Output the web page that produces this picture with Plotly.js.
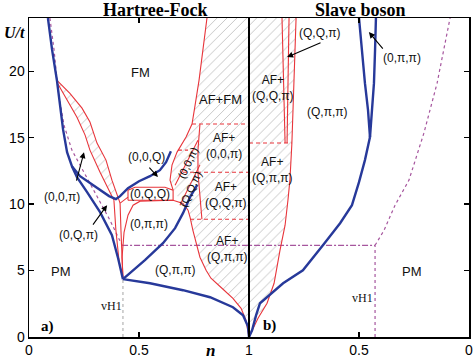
<!DOCTYPE html>
<html><head><meta charset="utf-8">
<script src="https://cdn.plot.ly/plotly-3.0.1.min.js"></script>
<style>body{margin:0;background:#fff}#c{width:474px;height:361px}</style>
</head><body><div id="c"></div>
<script>
// ---------- Hartree-Fock panel (x = n) ----------
const hfFmBlueN = [0.086,0.105,0.127,0.141,0.155,0.173,0.195,0.232,0.305,0.364,0.395,0.414,0.45,0.50,0.55,0.595,0.623,0.645];
const hfFmBlueU = [24.0,21.6,19.3,17.45,15.6,13.9,12.85,12.1,11.27,10.6,10.37,10.6,11.2,11.72,12.1,12.55,13.15,13.98];
const hfPmBlueN = [0.195,0.218,0.264,0.323,0.377,0.405,0.427];
const hfPmBlueU = [12.85,12.03,10.9,9.39,7.66,5.93,4.35];
const hfMidBlueN = [0.427,0.527,0.609,0.664,0.70,0.732,0.764];
const hfMidBlueU = [4.35,5.78,7.06,8.19,9.32,10.52,11.42];
const hfLowBlueN = [0.427,0.55,0.70,0.823,0.927,0.973,0.995,1.0];
const hfLowBlueU = [4.35,4.04,3.52,2.99,2.24,1.64,0.81,0];

const hfFmRedN = [0.809,0.791,0.773,0.755,0.741,0.714,0.686,0.673,0.65,0.641,0.655];
const hfFmRedU = [24,21.59,19.33,17.45,16.02,15.04,14.29,13.91,12.93,11.8,11.05];
const hfWedgeOutN = [0.127,0.186,0.241,0.277,0.309,0.35,0.377,0.40,0.414];
const hfWedgeOutU = [19.31,18.33,17.22,16.17,14.59,13.31,11.8,10.67,10.07];
const hfWedgeInN = [0.127,0.173,0.218,0.255,0.277,0.323,0.364,0.386];
const hfWedgeInU = [19.17,17.82,16.54,15.19,14.06,12.4,11.05,10.29];
const hfColAN = [0.386,0.395,0.409,0.423], hfColAU = [10.29,8.03,5.77,4.64];
const hfColBN = [0.45,0.414,0.418,0.423,0.427], hfColBU = [10.52,10.07,8.03,6.15,4.35];
const hfBoxN = [0.45,0.45,0.482,0.618,0.655,0.655,0.45];
const hfBoxU = [10.29,11.05,11.27,11.27,11.05,10.29,10.29];
const hfBigRedN = [0.427,0.423,0.432,0.45,0.473,0.505,0.655,0.70,0.723,0.732,0.745,0.764,0.777,0.805,0.827,0.882,0.927,0.964,0.986,1.0];
const hfBigRedU = [4.5,6.0,7.88,9.16,9.92,10.22,10.29,10.05,9.54,9.01,8.03,6.9,6.0,5.02,4.42,3.59,2.91,2.16,1.26,0];
const hfStripeRN = [0.777,0.768,0.768,0.777,0.786], hfStripeRU = [16.0,14.06,12.4,10.52,8.86];
const hfDiag1N = [0.768,0.664], hfDiag1U = [14.81,11.41];
const hfDiag2N = [0.777,0.686], hfDiag2U = [12.95,9.92];
// dashed horizontal red levels
const hfDashU = [16.02,14.06,12.4,8.86];
const hfDashFrom = [0.741,0.677,0.70,0.732];
const hfDashTo = [1,0.723,1,1];
// purple lines
const hfDotN = [0.095,0.114,0.132,0.159,0.195,0.227,0.277,0.318,0.368,0.423];
const hfDotU = [24,21.59,18.57,15.94,14.06,13.08,11.65,10.29,8.79,6.9];
const vh1U = 6.9, vh1N = 0.427, hfCuspU = 4.35;

// ---------- Slave boson panel (x = n, drawn mirrored) ----------
const sbBlueN = [1.0,0.986,0.968,0.95,0.845,0.755,0.664,0.586,0.532,0.50,0.473,0.45];
const sbBlueU = [0,0.5,1.63,2.54,4.04,5.02,6.9,8.56,9.92,11.65,13.31,15.04];
const sbBlueLN = [0.45,0.459,0.473,0.486,0.50], sbBlueLU = [15.04,17.07,19.1,21.59,24];
const sbBlueRN = [0.45,0.441,0.432,0.427,0.423], sbBlueRU = [15.04,17.07,19.1,21.59,24];
const sbRedN = [1.0,0.986,0.959,0.918,0.886,0.859,0.836,0.823,0.814,0.805,0.795,0.786];
const sbRedU = [0,0.5,1.41,2.54,4.04,6.53,8.41,10.29,11.8,14.59,19.33,24];
const sbRedAN = [0.85,0.836], sbRedAU = [24,14.59];
const sbRedBN = [0.818,0.827], sbRedBU = [24,14.59];
const sbDashU = 14.59, sbDashTo = 0.805;
const sbDotN = [0.427,0.386,0.336,0.273,0.205,0.145,0.086];
const sbDotU = [6.9,8.03,9.92,11.8,15.34,19.1,24];

const xTickVals = [0,0.5,1,1.5,2];
const xTickText = ['0','0.5','1','0.5','0'];
const yTickVals = [0,5,10,15,20];

const M = a => a.map(n => 2 - n);   // mirror right panel
const BLUE = '#27399a', RED = '#e8353b', PURP = '#a6569e', GREY='#b4b4b4';
const traces = [];
function L(x, y, color, width, dash){ traces.push({x, y, mode:'lines', line:{color, width, dash: dash||'solid'}, hoverinfo:'skip', showlegend:false}); }
const hatch = {shape:'/', fgcolor:'#bdbdbd', bgcolor:'rgba(0,0,0,0)', size:7, solidity:0.12};
function H(x, y){ traces.push({x, y, mode:'lines', fill:'toself', fillcolor:'rgba(0,0,0,0)', fillpattern:hatch, line:{width:0, color:'rgba(0,0,0,0)'}, hoverinfo:'skip', showlegend:false}); }

{
  const i0 = hfBigRedN.indexOf(0.732);
  const hx = hfFmRedN.slice(0,10).concat([0.655,0.70,0.723], hfBigRedN.slice(i0), [1]);
  const hy = hfFmRedU.slice(0,10).concat([11.05,10.05,9.54], hfBigRedU.slice(i0), [24]);
  H(hx, hy);
  H(hfWedgeOutN.concat(hfWedgeInN.slice().reverse()), hfWedgeOutU.concat(hfWedgeInU.slice().reverse()));
  H(M(sbRedN).concat([1]), sbRedU.concat([24]));
}
L(hfDotN, hfDotU, PURP, 1.2, 'dot');
L([hfDotN[hfDotN.length-1], 2 - vh1N], [vh1U, vh1U], PURP, 1.2, '6px,2px,2px,2px');
L(M(sbDotN), sbDotU, PURP, 1.2, 'dot');
L([vh1N, vh1N], [0, hfCuspU], GREY, 1.2, 'dot');
L([2-vh1N, 2-vh1N], [0, vh1U], PURP, 1.2, 'dot');
[[hfFmRedN,hfFmRedU],[hfWedgeOutN,hfWedgeOutU],[hfWedgeInN,hfWedgeInU],[hfColAN,hfColAU],[hfColBN,hfColBU],
 [hfBoxN,hfBoxU],[hfBigRedN,hfBigRedU],[hfStripeRN,hfStripeRU],[hfDiag1N,hfDiag1U],[hfDiag2N,hfDiag2U]].forEach(p=>L(p[0],p[1],RED,1.1));
hfDashU.forEach((u,i)=>L([hfDashFrom[i],hfDashTo[i]],[u,u],RED,1.1,'4px,3px'));
L(M(sbRedN), sbRedU, RED, 1.1);
L(M(sbRedAN), sbRedAU, RED, 1.1);
L(M(sbRedBN), sbRedBU, RED, 1.1);
L([1, 2-sbDashTo], [sbDashU, sbDashU], RED, 1.1, '4px,3px');
[[hfFmBlueN,hfFmBlueU],[hfPmBlueN,hfPmBlueU],[hfMidBlueN,hfMidBlueU],[hfLowBlueN,hfLowBlueU]].forEach(p=>L(p[0],p[1],BLUE,2.4));
L(M(sbBlueN), sbBlueU, BLUE, 2.4);
L(M(sbBlueLN), sbBlueLU, BLUE, 2.4);
L(M(sbBlueRN), sbBlueRU, BLUE, 2.4);
L([1,1],[0,24],'#000',2);

const SANS = 'Liberation Sans, Arial, sans-serif', SERIF = 'Liberation Serif, Times New Roman, serif';
const ann = [];
function T(x, y, text, size, extra){ ann.push(Object.assign({x, y, xref:'x', yref:'y', xanchor:'center', yanchor:'middle', text, showarrow:false, font:{family:SANS, size:size||12, color:'#111'}}, extra||{})); }
function A(hx, hy, tx, ty){ ann.push({x:hx, y:hy, ax:tx, ay:ty, xref:'x', yref:'y', axref:'x', ayref:'y', text:'', showarrow:true, arrowhead:2, arrowsize:1.1, arrowwidth:1.1, arrowcolor:'#000'}); }
T(0.505, 19.93, 'FM', 13);
T(0.87, 17.9, 'AF+FM', 13);
T(0.886, 14.4, 'AF+<br>(0,0,π)', 12);
T(0.895, 10.7, 'AF+<br>(Q,Q,π)', 12);
T(0.90, 6.6, 'AF+<br>(Q,π,π)', 12);
T(0.536, 13.53, '(0,0,Q)', 12);
T(0.15, 10.52, '(0,0,π)', 12);
T(0.227, 7.66, '(0,Q,π)', 12);
T(0.545, 8.47, '(0,π,π)', 12);
T(0.55, 10.73, '(0,Q,Q)', 12);
T(0.664, 5.02, '(Q,π,π)', 12);
T(0.145, 4.94, 'PM', 13);
T(0.373, 2.31, 'vH1', 12, {font:{family:SERIF,size:12,color:'#111'}});
T(0.082, 0.81, '<b>a)</b>', 15, {font:{family:SERIF,size:15,color:'#000'}});
T(0.723, 13.06, '(0,0,π)', 11, {textangle:-65});
T(0.735, 11.1, '(Q,Q,π)', 11, {textangle:-65});
T(1.109, 18.73, 'AF+<br>(Q,Q,π)', 12);
T(1.105, 12.55, 'AF+<br>(Q,π,π)', 12);
T(1.323, 22.87, '(Q,Q,π)', 12);
T(1.695, 20.98, '(0,π,π)', 12);
T(1.359, 16.92, '(Q,π,π)', 12);
T(1.741, 4.94, 'PM', 13);
T(1.514, 2.91, 'vH1', 12, {font:{family:SERIF,size:12,color:'#111'}});
T(1.095, 0.88, '<b>b)</b>', 15, {font:{family:SERIF,size:15,color:'#000'}});
A(0.586, 12.03, 0.541, 12.86);
A(0.25, 13.9, 0.214, 11.65);
A(0.355, 9.92, 0.286, 8.34);
A(2-0.827, 21.06, 2-0.668, 22.19);
A(2-0.455, 22.94, 2-0.386, 21.59);
function P(x, y, text, font, xref){ ann.push({xref:xref||'paper', yref:'paper', x, y, xanchor:'center', yanchor:'middle', text, showarrow:false, font}); }
P(0.573, 1.025, '<b>Hartree-Fock</b>', {family:SERIF, size:18, color:'#000'}, 'x');
P(1.505, 1.025, '<b>Slave boson</b>', {family:SERIF, size:18, color:'#000'}, 'x');
P(-0.034, 0.953, '<b><i>U/t</i></b>', {family:SERIF, size:16, color:'#000'});
P(0.827, -0.041, '<b><i>n</i></b>', {family:SERIF, size:17, color:'#000'}, 'x');

const layout = {
  width:474, height:361, margin:{l:29, r:5, t:18, b:24},
  paper_bgcolor:'#fff', plot_bgcolor:'#fff', showlegend:false,
  xaxis:{range:[0,2], tickvals:xTickVals, ticktext:xTickText, ticks:'inside', ticklen:5, tickwidth:1.2, tickcolor:'#000',
    showline:true, linecolor:'#000', linewidth:1.5, mirror:'ticks', showgrid:false, zeroline:false,
    tickfont:{family:SANS, size:14, color:'#000'}},
  yaxis:{range:[0,24], tickvals:yTickVals, ticks:'inside', ticklen:5, tickwidth:1.2, tickcolor:'#000',
    showline:true, linecolor:'#000', linewidth:1.5, mirror:'ticks', showgrid:false, zeroline:false,
    tickfont:{family:SANS, size:14, color:'#000'}},
  annotations: ann
};
Plotly.newPlot('c', traces, layout, {staticPlot:true, displayModeBar:false});
</script></body></html>
